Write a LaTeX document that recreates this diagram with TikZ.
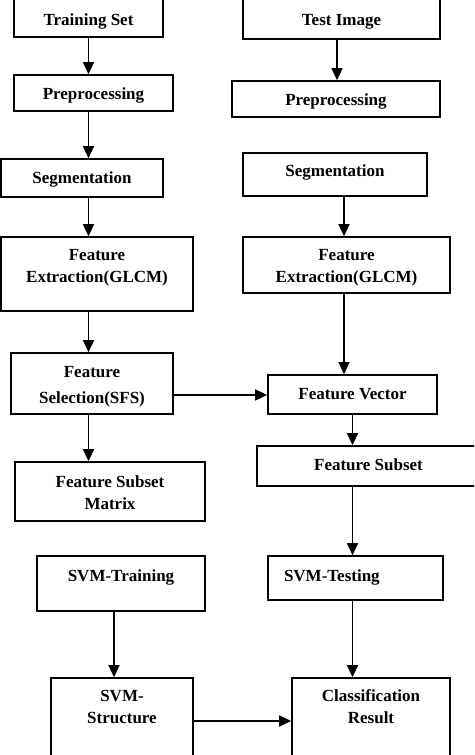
\documentclass[tikz,border=0pt]{standalone}
\usepackage{fontspec}
\setmainfont{Liberation Serif}
\usetikzlibrary{arrows.meta}

\begin{document}
\begin{tikzpicture} [x=1pt, y=-1pt,
        box/.style={draw, line width=1.6pt, inner sep=0pt, align=center,
                    font=\bfseries\fontsize{17}{22}\selectfont},
        arr/.style={line width=1.3pt, -{Triangle[length=12pt,width=11pt]}}]
            \useasboundingbox (0,0) rectangle (474,755);
            \clip (0,0) rectangle (474,755);

            % training side
            \node[box, minimum width=149pt, minimum height=47pt, text height=23pt, text depth=0pt] (ts) at (88.5, 13.5) {Training Set};
            \node[box, minimum width=159pt, minimum height=36pt, text height=12.6pt, text depth=0pt] (pre1) at (93.5, 93) {Preprocessing};
            \node[box, minimum width=162pt, minimum height=38pt, text height=10.6pt, text depth=0pt] (seg1) at (82, 178) {Segmentation};
            \node[box, minimum width=192pt, minimum height=74pt, text height=16.6pt, text depth=0pt] (fe1) at (97, 274) {Feature\\Extraction(GLCM)};
            \node[box, minimum width=162pt, minimum height=61pt, text height=39.6pt, text depth=0pt] (fsel) at (92, 383.5) {Feature\\[4pt]Selection(SFS)};
            \node[box, minimum width=190pt, minimum height=59pt, text height=35pt, text depth=0pt] (fsm) at (110, 491.5) {Feature Subset\\Matrix};
            \node[box, minimum width=168pt, minimum height=55pt, text height=0pt, text depth=5pt] (svmtr) at (121, 583.5) {SVM-Training};
            \node[box, minimum width=142pt, minimum height=102pt, text height=0pt, text depth=11.4pt] (svms) at (122, 729) {SVM-\\Structure};

            % test side
            \node[box, minimum width=197pt, minimum height=49pt, text height=21pt, text depth=0pt] (ti) at (341.5, 14.5) {Test Image};
            \node[box, minimum width=208pt, minimum height=36pt, text height=12pt, text depth=0pt] (pre2) at (336, 99) {Preprocessing};
            \node[box, minimum width=184pt, minimum height=43pt, text height=3pt, text depth=0pt] (seg2) at (335, 174.5) {Segmentation};
            \node[box, minimum width=207pt, minimum height=56pt, text height=34pt, text depth=0pt] (fe2) at (346.5, 265) {Feature\\Extraction(GLCM)};
            \node[box, minimum width=169pt, minimum height=39pt, text height=9pt, text depth=0pt] (fv) at (352.5, 394.5) {Feature Vector};
            \node[box, minimum width=223pt, minimum height=40pt, text height=9.4pt, text depth=0pt] (fsub) at (368.5, 466) {Feature Subset};
            \node[box, minimum width=175pt, minimum height=44pt, text height=6pt, text depth=0pt,
                  text width=143pt, inner xsep=16pt, align=left] (svmts) at (355.5, 578) {SVM-Testing};
            \node[box, minimum width=158pt, minimum height=102pt, text height=0pt, text depth=11.4pt] (cls) at (371, 729) {Classification\\Result};

            \draw[arr] (ts) -- (ts |- pre1.north);
            \draw[arr] (pre1.south -| ts) -- (seg1.north -| ts);
            \draw[arr] (seg1.south -| ts) -- (fe1.north -| ts);
            \draw[arr] (fe1.south -| ts) -- (fsel.north -| ts);
            \draw[arr] (fsel.south -| ts) -- (fsm.north -| ts);
            \draw[arr] ([xshift=-7pt]svmtr.south) -- ([xshift=-7pt]svmtr.south |- svms.north);
            \draw[arr] ([yshift=8pt]svms.east) -- ([yshift=8pt]svms.east -| cls.west);
            \draw[arr] ([yshift=-11.5pt]fsel.east) -- ([yshift=-11.5pt]fsel.east -| fv.west);

            \draw[arr] ([xshift=-4.5pt]ti.south) -- ([xshift=-4.5pt]ti.south |- pre2.north);
            \draw[arr] ([xshift=9pt]seg2.south) -- ([xshift=9pt]seg2.south |- fe2.north);
            \draw[arr] ([xshift=-2.5pt]fe2.south) -- ([xshift=-2.5pt]fe2.south |- fv.north);
            \draw[arr] (fv) -- (fv |- fsub.north);
            \draw[arr] (fsub.south -| fv) -- (svmts.north -| fv);
            \draw[arr] (svmts.south -| fv) -- (cls.north -| fv);
        \end{tikzpicture}
\end{document}
